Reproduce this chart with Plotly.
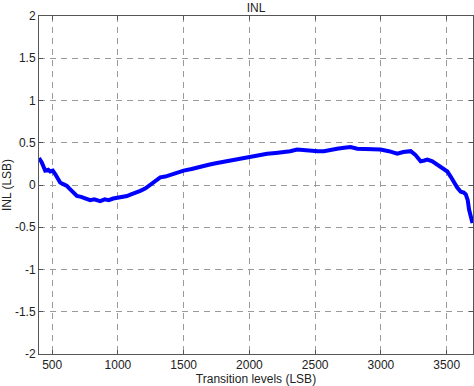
import plotly.graph_objects as go

levels = [400, 420, 447, 470, 485, 505, 523, 545, 561, 585, 612, 630, 650, 670, 688, 720, 750, 789, 820, 865,
          900, 930, 964, 1000, 1030, 1069, 1100, 1140, 1170, 1210, 1246, 1280, 1322, 1360, 1398, 1450, 1500,
          1560, 1627, 1690, 1754, 1820, 1880, 1940, 2008, 2070, 2135, 2200, 2261, 2310, 2363, 2420, 2464,
          2520, 2566, 2620, 2667, 2720, 2769, 2820, 2870, 2930, 2997, 3060, 3124, 3170, 3226, 3260, 3302,
          3330, 3353, 3391, 3420, 3455, 3480, 3505, 3530, 3556, 3580, 3607, 3630, 3645, 3660, 3670, 3685, 3696]
inl = [0.32, 0.27, 0.17, 0.18, 0.16, 0.17, 0.13, 0.08, 0.03, 0.01, -0.01, -0.04, -0.07, -0.10, -0.13, -0.14,
       -0.16, -0.18, -0.17, -0.19, -0.17, -0.18, -0.16, -0.15, -0.15, -0.13, -0.11, -0.09, -0.07, -0.04, 0.0,
       0.04, 0.09, 0.10, 0.12, 0.14, 0.17, 0.19, 0.22, 0.24, 0.26, 0.28, 0.30, 0.32, 0.34, 0.35, 0.37, 0.38,
       0.39, 0.40, 0.42, 0.41, 0.41, 0.40, 0.40, 0.42, 0.43, 0.44, 0.45, 0.43, 0.43, 0.43, 0.42, 0.40, 0.37,
       0.39, 0.40, 0.36, 0.28, 0.29, 0.30, 0.28, 0.25, 0.22, 0.19, 0.16, 0.10, 0.02, -0.03, -0.08, -0.09,
       -0.11, -0.18, -0.29, -0.38, -0.45]

x_ticks = [500, 1000, 1500, 2000, 2500, 3000, 3500]
y_ticks = [-2, -1.5, -1, -0.5, 0, 0.5, 1, 1.5, 2]
y_tick_labels = ["-2", "-1.5", "-1", "-0.5", "0", "0.5", "1", "1.5", "2"]

FONT = "Liberation Sans, Arial, sans-serif"

fig = go.Figure()
fig.add_trace(go.Scatter(x=levels, y=inl, mode="lines",
                         line=dict(color="#0000ff", width=4), showlegend=False))

axis_common = dict(
    showline=True, linecolor="#555555", linewidth=1, mirror="ticks",
    ticks="inside", ticklen=4, tickcolor="#555555",
    showgrid=True, gridcolor="#9a9a9a", gridwidth=1, griddash="6px,5px",
    zeroline=False, tickfont=dict(family=FONT, size=12, color="#222222"),
)

fig.update_layout(
    width=474, height=386,
    margin=dict(l=39, r=1, t=16, b=32),
    paper_bgcolor="white", plot_bgcolor="white",
    title=dict(text="INL", x=0.5 + (39 - 1) / 2 / 474, xanchor="center", y=1 - 8 / 386, yanchor="middle",
               font=dict(family=FONT, size=12, color="#222222")),
    xaxis=dict(range=[400, 3700], tickvals=x_ticks,
               title=dict(text="Transition levels (LSB)", standoff=2,
                          font=dict(family=FONT, size=12, color="#222222")),
               **axis_common),
    yaxis=dict(range=[-2, 2], tickvals=y_ticks, ticktext=y_tick_labels,
               title=dict(text="INL (LSB)", standoff=4,
                          font=dict(family=FONT, size=12, color="#222222")),
               **axis_common),
)

fig.write_html("out.html")
